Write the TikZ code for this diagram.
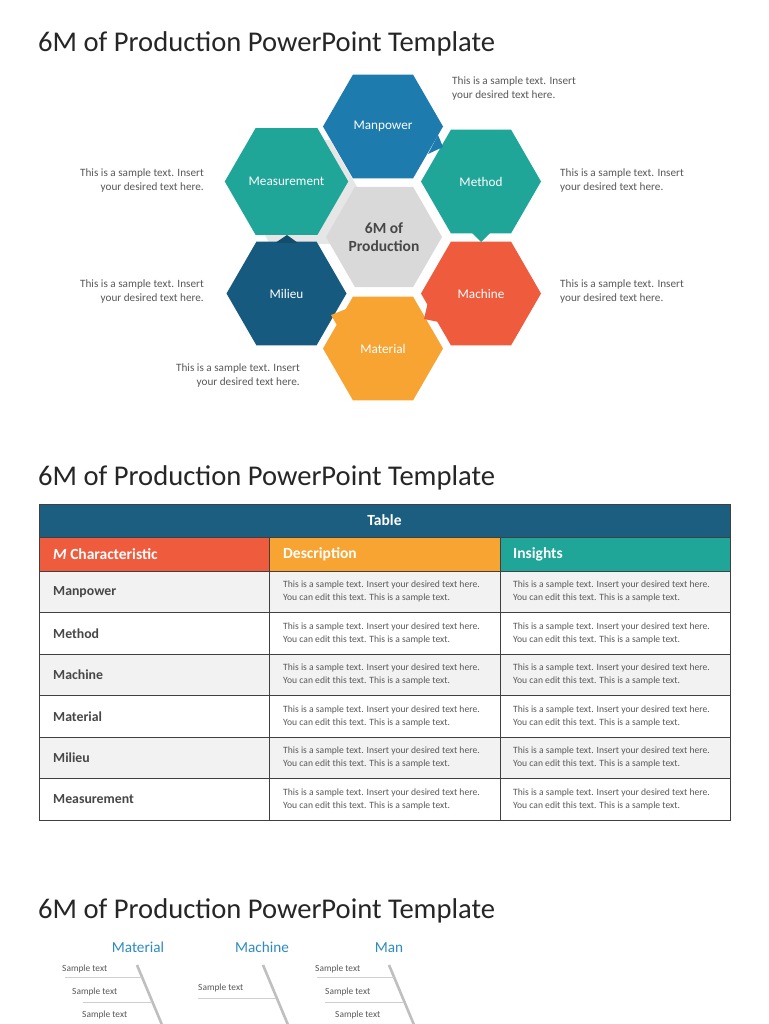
\documentclass[tikz,border=0pt]{standalone}
\usepackage{fontspec}
\setmainfont{Carlito}
\usetikzlibrary{shapes.geometric}
\definecolor{titlecol}{HTML}{262626}
\definecolor{txtgray}{HTML}{595959}
\definecolor{cmanpower}{HTML}{1E7BAE}
\definecolor{cteal}{HTML}{1FA699}
\definecolor{cmilieu}{HTML}{165B7F}
\definecolor{cmachine}{HTML}{EE5C3D}
\definecolor{cmaterial}{HTML}{F7A433}
\definecolor{ccenter}{HTML}{D9D9D9}
\definecolor{cshadow}{HTML}{E6E6E6}
\definecolor{tabhead}{HTML}{1B5E80}
\definecolor{rowgray}{HTML}{F2F2F2}
\definecolor{border}{HTML}{404040}
\definecolor{fishblue}{HTML}{2E8BC0}
\definecolor{fishgray}{HTML}{BFBFBF}
\definecolor{fishline}{HTML}{CFCFCF}
\tikzset{
  titletext/.style={anchor=base west, inner sep=0, text=titlecol, font=\fontsize{28.6}{32}\selectfont},
  hexnode/.style={regular polygon, regular polygon sides=6, minimum size=120pt, inner sep=0, outer sep=0, draw=none, text=white, font=\fontsize{13.2}{15}\selectfont},
  sidetext/.style={inner sep=0, text=txtgray, font=\fontsize{11.2}{13.5}\selectfont},
  headtext/.style={anchor=west, inner sep=0, text=white, font=\fontsize{15.5}{17}\selectfont\bfseries},
  rowlabel/.style={anchor=west, inner sep=0, text=titlecol!85, font=\fontsize{13.8}{15}\selectfont\bfseries},
  celltext/.style={anchor=west, inner sep=0, align=left, text=txtgray, font=\fontsize{9.6}{13}\selectfont},
  fishlabel/.style={anchor=base, inner sep=0, text=fishblue, font=\fontsize{15.2}{17}\selectfont},
  fishtext/.style={anchor=base west, inner sep=0, text=txtgray, font=\fontsize{9.4}{11}\selectfont},
  tabline/.style={draw=border, line width=0.9pt},
}
\begin{document}
\begin{tikzpicture}[x=1pt,y=-1pt]
\useasboundingbox (0,0) rectangle (768,1024);
\clip (0,0) rectangle (768,1024);
\fill[white] (0,0) rectangle (768,1024);

% ---------- Section 1 ----------
\node[titletext] (t1) at (38,52) {6M of Production PowerPoint Template};

% shadow behind Measurement
\fill[cshadow] (300,192) ++(0:60) -- ++(120:60) -- ++(180:60) -- ++(240:60) -- ++(300:60) -- ++(0:60) -- cycle;
\node[hexnode, fill=ccenter, minimum size=116pt, text=titlecol!85, font=\fontsize{15.5}{17.5}\selectfont\bfseries, align=center] (center) at (384,237) {6M of\\Production};
\node[hexnode, fill=cteal] (measurement) at (286.5,181.5) {Measurement};
\node[hexnode, fill=cmanpower] (manpower) at (383,126.5) {Manpower};
\node[hexnode, fill=cteal] (method) at (481,181.5) {Method};
\node[hexnode, fill=cmachine] (machine) at (481,293.5) {Machine};
\node[hexnode, fill=cmaterial] (material) at (383,348.5) {Material};
\node[hexnode, fill=cmilieu] (milieu) at (286.5,293.5) {Milieu};

% small tabs
\fill[cmanpower] (438,135) -- (443,147) -- (428,154) -- cycle;
\fill[cteal] (471,232) -- (491,232) -- (481,242) -- cycle;
\fill[cmilieu!85!black] (275,243) -- (298,243) -- (287,235) -- cycle;
\fill[cmachine] (428,302) -- (424,319) -- (439,322) -- cycle;
\fill[cmaterial] (346,309) -- (331,315) -- (338,327) -- cycle;

% side texts
\node[sidetext, anchor=north west, align=left] (s1) at (452,77) {This is a sample text. Insert\\your desired text here.};
\node[sidetext, anchor=north east, align=right] (s2) at (204,169) {This is a sample text. Insert\\your desired text here.};
\node[sidetext, anchor=north west, align=left] (s3) at (560,169) {This is a sample text. Insert\\your desired text here.};
\node[sidetext, anchor=north east, align=right] (s4) at (204,280) {This is a sample text. Insert\\your desired text here.};
\node[sidetext, anchor=north west, align=left] (s5) at (560,280) {This is a sample text. Insert\\your desired text here.};
\node[sidetext, anchor=north east, align=right] (s6) at (300,364) {This is a sample text. Insert\\your desired text here.};

% ---------- Section 2 ----------
\node[titletext] (t2) at (38,485) {6M of Production PowerPoint Template};

\fill[tabhead] (39,504) rectangle (730,537);
\node[inner sep=0, text=white, font=\fontsize{15.5}{17}\selectfont\bfseries] (tabtitle) at (384.5,520.5) {Table};
\fill[cmachine] (39,537) rectangle (269,571);
\fill[cmaterial] (269,537) rectangle (500,571);
\fill[cteal] (500,537) rectangle (730,571);
\node[headtext] (h1) at (53,554) {\textit{M} Characteristic};
\node[headtext] (h2) at (283,554) {Description};
\node[headtext] (h3) at (513,554) {Insights};

\foreach \lab [count=\i] in {Manpower,Method,Machine,Material,Milieu,Measurement} {
  \pgfmathsetmacro\ytop{571+(\i-1)*41.5}
  \pgfmathsetmacro\ymid{\ytop+20.75}
  \ifodd\i
    \fill[rowgray] (39,\ytop) rectangle (730,\ytop+41.5);
  \fi
  \node[rowlabel] (row\i) at (53,\ymid) {\lab};
  \node[celltext] (desc\i) at (283,\ymid) {This is a sample text. Insert your desired text here.\\You can edit this text. This is a sample text.};
  \node[celltext] (ins\i) at (513,\ymid) {This is a sample text. Insert your desired text here.\\You can edit this text. This is a sample text.};
  \draw[tabline] (39,\ytop) -- (730,\ytop);
}
\draw[tabline] (39,537) -- (730,537);
\draw[tabline] (269,537) -- (269,820);
\draw[tabline] (500,537) -- (500,820);
\draw[tabline] (39,504) rectangle (730,820);

% ---------- Section 3 ----------
\node[titletext] (t3) at (38,918) {6M of Production PowerPoint Template};

\node[fishlabel] (fmaterial) at (138,952) {Material};
\node[fishlabel] (fmachine) at (262,952) {Machine};
\node[fishlabel] (fman) at (389,952) {Man};

\coordinate (ma1) at (137,965); \coordinate (ma2) at (165,1032);
\coordinate (mc1) at (263,965); \coordinate (mc2) at (291,1032);
\coordinate (mn1) at (389,965); \coordinate (mn2) at (417,1032);
\draw[fishgray, line width=2.6pt] (ma1) -- (ma2);
\draw[fishgray, line width=2.6pt] (mc1) -- (mc2);
\draw[fishgray, line width=2.6pt] (mn1) -- (mn2);

% Material branches
\coordinate (a1) at (65,977); \coordinate (a1e) at (142,977);
\coordinate (a2) at (83,1002); \coordinate (a2e) at (152,1002);
\draw[fishline, line width=1pt] (a1) -- (a1e);
\draw[fishline, line width=1pt] (a2) -- (a2e);
\node[fishtext] (ta1) at (62,971) {Sample text};
\node[fishtext] (ta2) at (72,994) {Sample text};
\node[fishtext] (ta3) at (82,1017) {Sample text};

% Machine branch
\coordinate (b1) at (198,998); \coordinate (b1e) at (276,998);
\draw[fishline, line width=1pt] (b1) -- (b1e);
\node[fishtext] (tb1) at (198,990) {Sample text};

% Man branches
\coordinate (c1) at (317,977); \coordinate (c1e) at (394,977);
\coordinate (c2) at (325,1002); \coordinate (c2e) at (403,1002);
\draw[fishline, line width=1pt] (c1) -- (c1e);
\draw[fishline, line width=1pt] (c2) -- (c2e);
\node[fishtext] (tc1) at (315,971) {Sample text};
\node[fishtext] (tc2) at (325,994) {Sample text};
\node[fishtext] (tc3) at (335,1017) {Sample text};
\end{tikzpicture}
\end{document}
